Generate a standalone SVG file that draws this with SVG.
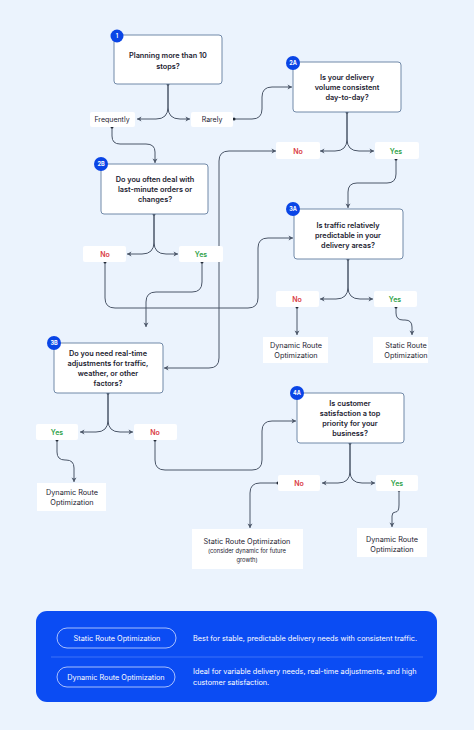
<svg xmlns="http://www.w3.org/2000/svg" width="474" height="730" viewBox="0 0 474 730">
<style>
.q{fill:#fff;stroke:#7189a8;stroke-width:1}
.qt{font-family:Inter,"Liberation Sans",sans-serif;font-size:7.3px;font-weight:600;fill:#1c2230;text-anchor:middle}
.bd{fill:#0a45e6}
.bt{font-family:Inter,"Liberation Sans",sans-serif;font-size:5.5px;font-weight:700;fill:#fff;text-anchor:middle}
.lb{fill:#fff}
.lt{font-family:Inter,"Liberation Sans",sans-serif;font-size:7px;fill:#1c2230;text-anchor:middle}
.no{font-family:Inter,"Liberation Sans",sans-serif;font-size:7px;font-weight:600;fill:#d93a43;text-anchor:middle}
.yes{font-family:Inter,"Liberation Sans",sans-serif;font-size:7px;font-weight:600;fill:#2fa24a;text-anchor:middle}
.rt{font-family:Inter,"Liberation Sans",sans-serif;font-size:7.3px;fill:#1c2230;text-anchor:middle}
.c{fill:none;stroke:#4b5668;stroke-width:1;marker-end:url(#ah)}
.cd{marker-start:url(#dot)}
.pill{fill:none;stroke:#cfdcff;stroke-width:0.8}
.pt{font-family:Inter,"Liberation Sans",sans-serif;font-size:7.3px;fill:#fff;text-anchor:middle}
.dt{font-family:Inter,"Liberation Sans",sans-serif;font-size:7.3px;fill:#fff}
</style>
<defs>
<marker id="ah" markerUnits="userSpaceOnUse" markerWidth="6" markerHeight="6" refX="5" refY="3" orient="auto-start-reverse"><path d="M0.5,0.5 L5,3 L0.5,5.5 L1.8,3 z" fill="#4b5668"/></marker>
<marker id="dot" markerUnits="userSpaceOnUse" markerWidth="4" markerHeight="4" refX="2" refY="2"><circle cx="2" cy="2" r="1.5" fill="#222a36"/></marker>
</defs>
<rect width="474" height="730" fill="#ebf3fd"/>

<g id="connectors">
<path class="c cd" d="M168,84 V107 Q168,119 156,119 H137"/>
<path class="c" d="M168,84 V107 Q168,119 180,119 H190"/>
<path class="c cd" d="M234,119 H252 Q262,119 262,109 V97 Q262,87 272,87 H292"/>
<path class="c cd" d="M112,127 V136 Q112,144 120,144 H146 Q155,144 155,152 V163"/>
<path class="c cd" d="M347,112 V139 Q347,151 335,151 H320"/>
<path class="c" d="M347,112 V139 Q347,151 359,151 H374"/>
<path class="c" style="marker-start:url(#ah)" d="M276,151 H229 Q219,151 219,161 V358 Q219,368 209,368 H164"/>
<path class="c cd" d="M396,159 V174 Q396,183 387,183 H357 Q348,183 348,192 V208"/>
<path class="c cd" d="M154,214 V242 Q154,254 142,254 H127"/>
<path class="c" d="M154,214 V242 Q154,254 166,254 H178"/>
<path class="c cd" d="M105,262 V298 Q105,308 115,308 H248 Q258,308 258,298 V248 Q258,238 268,238 H293"/>
<path class="c cd" d="M202,262 V282 Q202,292 192,292 H156 Q146,292 146,302 V327"/>
<path class="c cd" d="M348,259 V287 Q348,299 336,299 H320"/>
<path class="c" d="M348,259 V287 Q348,299 360,299 H373"/>
<path class="c cd" d="M297,307 V335"/>
<path class="c cd" d="M396,307 V313 Q396,320 403,320 H405 Q412,320 412,327 V335"/>
<path class="c cd" d="M108,393 V420 Q108,432 96,432 H80"/>
<path class="c" d="M108,393 V420 Q108,432 120,432 H133"/>
<path class="c cd" d="M57,440 V452 Q57,460 65,460 H66 Q74,460 74,468 V482"/>
<path class="c cd" d="M155,440 V460 Q155,470 165,470 H252 Q262,470 262,460 V431 Q262,421 272,421 H296"/>
<path class="c cd" d="M350,443 V471 Q350,483 338,483 H322"/>
<path class="c" d="M350,443 V471 Q350,483 362,483 H375"/>
<path class="c cd" d="M278,483 H260 Q250,483 250,493 V528"/>
<path class="c cd" d="M399,490 V505 Q399,512 395.5,512 Q392,512 392,516 V527"/>
</g>

<g id="q1">
<rect class="q" x="114" y="35" width="108" height="49" rx="3"/>
<circle class="bd" cx="117" cy="36" r="6.5"/><text class="bt" x="117" y="38">1</text>
<text class="qt" x="168" y="58">Planning more than 10</text>
<text class="qt" x="168" y="69">stops?</text>
</g>
<g id="frequently"><rect class="lb" x="90" y="112" width="45" height="15" rx="2"/><text class="lt" x="112" y="122">Frequently</text></g>
<g id="rarely"><rect class="lb" x="191" y="112" width="42" height="15" rx="2"/><text class="lt" x="212" y="122">Rarely</text></g>

<g id="q2a">
<rect class="q" x="293" y="62" width="108" height="50" rx="3"/>
<circle class="bd" cx="293" cy="63" r="7"/><text class="bt" x="293" y="65">2A</text>
<text class="qt" x="347" y="80">Is your delivery</text>
<text class="qt" x="347" y="90">volume consistent</text>
<text class="qt" x="347" y="100">day-to-day?</text>
</g>
<g id="no2a"><rect class="lb" x="276" y="142" width="44" height="17" rx="2"/><text class="no" x="298" y="153.5">No</text></g>
<g id="yes2a"><rect class="lb" x="375" y="142" width="44" height="17" rx="2"/><text class="yes" x="396" y="153.5">Yes</text></g>

<g id="q2b">
<rect class="q" x="101" y="164" width="107" height="50" rx="3"/>
<circle class="bd" cx="101" cy="164" r="7"/><text class="bt" x="101" y="166">2B</text>
<text class="qt" x="155" y="182">Do you often deal with</text>
<text class="qt" x="155" y="192">last-minute orders or</text>
<text class="qt" x="155" y="202">changes?</text>
</g>
<g id="no2b"><rect class="lb" x="83" y="246" width="43" height="16" rx="2"/><text class="no" x="105" y="257">No</text></g>
<g id="yes2b"><rect class="lb" x="179" y="246" width="44" height="16" rx="2"/><text class="yes" x="201" y="257">Yes</text></g>

<g id="q3a">
<rect class="q" x="294" y="209" width="109" height="50" rx="3"/>
<circle class="bd" cx="293" cy="209" r="7"/><text class="bt" x="293" y="211">3A</text>
<text class="qt" x="348" y="228">Is traffic relatively</text>
<text class="qt" x="348" y="238">predictable in your</text>
<text class="qt" x="348" y="248">delivery areas?</text>
</g>
<g id="no3a"><rect class="lb" x="276" y="291" width="43" height="16" rx="2"/><text class="no" x="297" y="302">No</text></g>
<g id="yes3a"><rect class="lb" x="374" y="291" width="43" height="16" rx="2"/><text class="yes" x="395" y="302">Yes</text></g>
<g id="r3a-dyn"><rect class="lb" x="263" y="337" width="65" height="26"/><text class="rt" x="296" y="348">Dynamic Route</text><text class="rt" x="296" y="358">Optimization</text></g>
<g id="r3a-static"><rect class="lb" x="373" y="337" width="55" height="26"/><text class="rt" x="406" y="348">Static Route</text><text class="rt" x="406" y="358">Optimization</text></g>

<g id="q3b">
<rect class="q" x="54" y="343" width="109" height="50" rx="3"/>
<circle class="bd" cx="54" cy="343" r="7"/><text class="bt" x="54" y="345">3B</text>
<text class="qt" x="108" y="356">Do you need real-time</text>
<text class="qt" x="108" y="366">adjustments for traffic,</text>
<text class="qt" x="108" y="376">weather, or other</text>
<text class="qt" x="108" y="386">factors?</text>
</g>
<g id="yes3b"><rect class="lb" x="36" y="424" width="42" height="16" rx="2"/><text class="yes" x="57" y="435">Yes</text></g>
<g id="no3b"><rect class="lb" x="134" y="424" width="43" height="16" rx="2"/><text class="no" x="155" y="435">No</text></g>
<g id="r3b-dyn"><rect class="lb" x="37" y="483" width="69" height="28"/><text class="rt" x="72" y="495">Dynamic Route</text><text class="rt" x="72" y="505">Optimization</text></g>

<g id="q4a">
<rect class="q" x="297" y="393" width="107" height="50" rx="3"/>
<circle class="bd" cx="297" cy="393" r="7"/><text class="bt" x="297" y="395">4A</text>
<text class="qt" x="350" y="406">Is customer</text>
<text class="qt" x="350" y="416">satisfaction a top</text>
<text class="qt" x="350" y="426">priority for your</text>
<text class="qt" x="350" y="436">business?</text>
</g>
<g id="no4a"><rect class="lb" x="278" y="475" width="42" height="16" rx="2"/><text class="no" x="299" y="486">No</text></g>
<g id="yes4a"><rect class="lb" x="376" y="475" width="42" height="16" rx="2"/><text class="yes" x="397" y="486">Yes</text></g>
<g id="r4a-static"><rect class="lb" x="192" y="529" width="111" height="40"/><text class="rt" x="247" y="544">Static Route Optimization</text><text class="rt" style="font-size:5.8px" x="247" y="553">(consider dynamic for future</text><text class="rt" style="font-size:5.8px" x="247" y="562">growth)</text></g>
<g id="r4a-dyn"><rect class="lb" x="357" y="528" width="70" height="29"/><text class="rt" x="392" y="542">Dynamic Route</text><text class="rt" x="392" y="552">Optimization</text></g>

<g id="legend">
<rect x="36" y="611" width="401" height="91" rx="11" fill="#0b4cf3"/>
<rect class="pill" x="57" y="628" width="119" height="20" rx="10"/>
<text class="pt" x="117" y="640.5">Static Route Optimization</text>
<line x1="51" y1="657" x2="423" y2="657" stroke="#4d7cf7" stroke-width="0.8"/>
<rect class="pill" x="57" y="667" width="118" height="20" rx="10"/>
<text class="pt" x="116" y="679.5">Dynamic Route Optimization</text>
<text class="dt" x="193" y="640.5">Best for stable, predictable delivery needs with consistent traffic.</text>
<text class="dt" x="193" y="674">Ideal for variable delivery needs, real-time adjustments, and high</text>
<text class="dt" x="193" y="685">customer satisfaction.</text>
</g>
</svg>
